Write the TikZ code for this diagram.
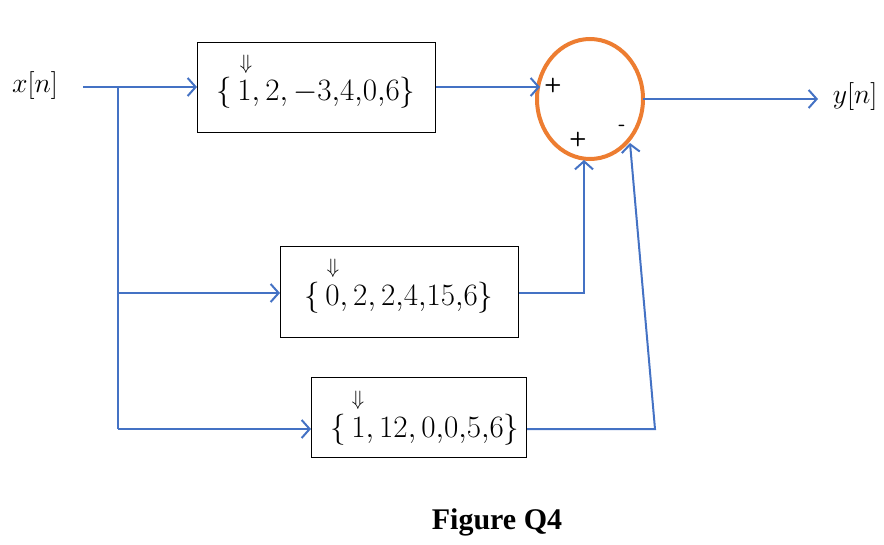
\documentclass[tikz,border=0pt]{standalone}
\usepackage{fontspec}
\usetikzlibrary{arrows.meta,shapes.geometric}
\newfontfamily\figfont{Liberation Serif}
\definecolor{lblue}{RGB}{68,114,196}
\definecolor{lorange}{RGB}{237,125,49}
\begin{document}
\begin{tikzpicture}[x=1pt,y=-1pt,
  wire/.style={draw=lblue,line width=2pt},
  arr/.style={wire,-{Straight Barb[length=8pt,width=18pt,line width=2pt]}},
  blk/.style={draw,line width=1.2pt,inner sep=0pt,anchor=north west},
  seq/.style={font=\fontsize{24}{28}\selectfont,transform shape,scale=1.25},
  io/.style={font=\fontsize{24}{28}\selectfont,transform shape,scale=1.12},
  dn/.style={font=\fontsize{20}{24}\selectfont},
  sg/.style={font=\sffamily\bfseries\fontsize{20}{24}\selectfont}]
\useasboundingbox (0,0) rectangle (884,544);
\node[io] (x) at (35,86) {$x[n]$};
\node[io] (y) at (855,97) {$y[n]$};
\node[blk,minimum width=238pt,minimum height=90pt] (b1) at (197,42) {};
\node[blk,minimum width=238pt,minimum height=91pt] (b2) at (280,246) {};
\node[blk,minimum width=215pt,minimum height=80pt] (b3) at (311,377) {};
\node[seq] at (316,93) {$\{\,1, 2, -3{,}4{,}0{,}6\}$};
\node[dn] at (246,64) {$\Downarrow$};
\node[seq] at (399,298) {$\{\,0, 2, 2{,}4{,}15{,}6\}$};
\node[dn] at (333,268) {$\Downarrow$};
\node[seq] at (425,430) {$\{\,1, 12, 0{,}0{,}5{,}6\}$};
\node[dn] at (358,400) {$\Downarrow$};
\node[ellipse,draw=lorange,line width=4pt,minimum width=106pt,minimum height=120pt,inner sep=0pt] (s) at (590,99) {};
\node[sg] at (553,85) {+};
\node[sg] at (578,139) {+};
\node[sg] at (622,128) {-};
\coordinate (j1) at (118,87);
\coordinate (j2) at (118,293);
\coordinate (j3) at (118,429);
\coordinate (in1) at (540,87);
\coordinate (in2) at (584,160);
\coordinate (in3) at (630,143);
\coordinate (o2) at (584,293);
\coordinate (o3) at (655,429);
\coordinate (yend) at (818,99);
\draw[arr] (83,87) -- (b1.west|-j1);
\draw[wire] (j1) -- (j3);
\draw[arr] (j2) -- (b2.west|-j2);
\draw[arr] (j3) -- (b3.west|-j3);
\draw[arr] (b1.east|-j1) -- (in1);
\draw[arr] (b2.east|-o2) -- (o2) -- (in2);
\draw[arr] (b3.east|-o3) -- (o3) -- (in3);
\draw[arr] (643,99) -- (yend);
\node[font=\figfont\bfseries\fontsize{30}{34}\selectfont] (cap) at (497,522) {Figure Q4};
\end{tikzpicture}
\end{document}
